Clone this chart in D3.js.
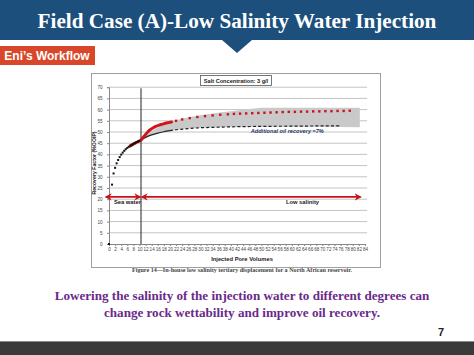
<!DOCTYPE html>
<html><head><meta charset="utf-8">
<script src="https://cdn.jsdelivr.net/npm/d3@7"></script>
<style>html,body{margin:0;padding:0;background:#fff;}svg{display:block;}</style>
</head><body>
<svg id="c" width="474" height="355"></svg>
<script>
// ---- data ----
const xTicks = d3.range(0, 85, 2);
const yTicks = [0,5,10,15,20,25,30,35,40,45,50,55,60,65,70];
const seaX = [0, 1, 1.5, 2, 2.5, 3, 3.5, 4, 4.5, 5, 5.5, 6, 6.5, 7, 7.5, 8, 8.5, 9, 9.5, 10];
const seaY = [0, 26.5, 31.5, 34, 36, 37.5, 38.8, 39.9, 40.8, 41.6, 42.3, 42.9, 43.4, 43.9, 44.3, 44.7, 45.1, 45.5, 45.8, 46.1];
const baseSolidX = [10.5, 12, 14, 16, 18, 20];
const baseSolidY = [46.4, 47.6, 48.7, 49.5, 50.1, 50.6];
const baseDashX = [20, 22, 25, 30, 35, 40, 50, 60, 70, 76];
const baseDashY = [50.6, 51.0, 51.4, 51.9, 52.1, 52.3, 52.5, 52.6, 52.7, 52.7];
const lowSalX = [7, 8, 9, 10, 10.5, 11.5, 12.5, 13.5, 14.5, 15.5, 16.5, 17.5, 18.5, 19.5, 20.5];
const lowSalY = [43.8, 44.6, 45.3, 46.0, 46.4, 48.1, 49.7, 51.0, 51.9, 52.6, 53.1, 53.5, 53.9, 54.2, 54.5];
const predX = [22, 24, 26.5, 29, 31.5, 34, 36.5, 39, 41, 43, 45, 47, 49, 51, 53, 55, 57, 59, 61, 63, 65, 67, 69, 71, 73, 75, 77, 79];
const predY = [55.0, 55.6, 56.2, 56.7, 57.1, 57.4, 57.7, 57.9, 58.1, 58.2, 58.3, 58.4, 58.5, 58.6, 58.7, 58.8, 58.9, 59.0, 59.0, 59.1, 59.1, 59.2, 59.2, 59.3, 59.3, 59.4, 59.4, 59.5];
const bandTopX = [10.5, 12, 14, 16, 18, 20, 22, 25, 28, 31, 34, 37, 40, 43, 46, 50, 82.3];
const bandTopY = [46.4, 48.1, 50.4, 52.0, 53.2, 54.3, 55.2, 56.2, 57.0, 57.7, 58.3, 58.8, 59.3, 59.8, 60.3, 60.8, 60.8];
const bandBotX = [82.3, 76, 60, 50, 40, 30, 25, 20, 18, 16, 14, 12, 10.5];
const bandBotY = [52.1, 52.2, 52.3, 52.3, 52.2, 51.9, 51.4, 50.6, 50.1, 49.5, 48.7, 47.6, 46.4];
const switchPV = 10.5;
const arrowY = 21;
const seaArrow = [-1, 10.2];
const lowArrow = [10.8, 82.5];

// ---- drawing ----
const svg = d3.select("#c");
// header
svg.append("rect").attr("x",0).attr("y",0).attr("width",474).attr("height",40).attr("fill","#1c4f7c");
svg.append("path").attr("d","M222,40 L252,40 L237,53 Z").attr("fill","#1c4f7c");
svg.append("text").attr("x",237).attr("y",28).attr("text-anchor","middle")
  .attr("font-family","Liberation Serif, serif").attr("font-weight","bold").attr("font-size",21.2)
  .attr("fill","#fff").text("Field Case (A)-Low Salinity Water Injection");
svg.append("rect").attr("x",0).attr("y",46).attr("width",95).attr("height",19).attr("fill","#d8472a");
svg.append("text").attr("x",47).attr("y",60).attr("text-anchor","middle")
  .attr("font-family","Liberation Sans, Arial, sans-serif").attr("font-weight","bold").attr("font-size",12)
  .attr("fill","#fff").text("Eni\u2019s Workflow");

// chart frame
svg.append("rect").attr("x",91.5).attr("y",73.5).attr("width",289).attr("height",194)
  .attr("fill","#fff").attr("stroke","#a0a0a0").attr("stroke-width",1);

const x = d3.scaleLinear().domain([0,84]).range([109,365]);
const y = d3.scaleLinear().domain([0,70]).range([244,87.2]);
const g = svg.append("g");

// grid
g.selectAll(".grid").data(yTicks.filter(v=>v>0)).join("line")
  .attr("x1",x(0)).attr("x2",x(84.7)).attr("y1",d=>y(d)).attr("y2",d=>y(d))
  .attr("stroke","#c4c4c4").attr("stroke-width",1);

// band
const bandPts = bandTopX.map((v,i)=>[x(v),y(bandTopY[i])]).concat(bandBotX.map((v,i)=>[x(v),y(bandBotY[i])]));
g.append("path").attr("d", "M" + bandPts.map(p=>p.join(",")).join("L") + "Z").attr("fill","#c9c9c9");

// axes
const sans = "Liberation Sans, Arial, sans-serif";
const xAxis = d3.axisBottom(x).tickValues(xTicks).tickSize(2).tickFormat(d3.format("d"));
const xa = g.append("g").attr("transform",`translate(0,${y(0)})`).call(xAxis);
xa.select(".domain").attr("stroke","#888");
xa.selectAll(".tick line").attr("stroke","#888");
xa.selectAll(".tick text").attr("font-size",4.6).attr("fill","#444").attr("dy","0.5em")
  .attr("font-family",sans);
const yAxis = d3.axisLeft(y).tickValues(yTicks).tickSize(2).tickFormat(d3.format("d"));
const ya = g.append("g").attr("transform",`translate(${x(0)},0)`).call(yAxis);
ya.select(".domain").attr("stroke","#888");
ya.selectAll(".tick line").attr("stroke","#888");
ya.selectAll(".tick text").attr("font-size",4.6).attr("fill","#444").attr("dx","-0.3em")
  .attr("font-family",sans);

// vertical switch line
g.append("line").attr("x1",x(switchPV)).attr("x2",x(switchPV)).attr("y1",y(69.5)).attr("y2",y(0))
  .attr("stroke","#222").attr("stroke-width",1);

// baseline black curve
const line = d3.line().curve(d3.curveMonotoneX);
g.append("path").attr("d", line(baseSolidX.map((v,i)=>[x(v),y(baseSolidY[i])])))
  .attr("fill","none").attr("stroke","#222").attr("stroke-width",1.2);
g.append("path").attr("d", line(baseDashX.map((v,i)=>[x(v),y(baseDashY[i])])))
  .attr("fill","none").attr("stroke","#222").attr("stroke-width",1.2).attr("stroke-dasharray","3,2.2");

// low salinity red thick curve
g.append("path").attr("d", line(lowSalX.map((v,i)=>[x(v),y(lowSalY[i])])))
  .attr("fill","none").attr("stroke","#d0141c").attr("stroke-width",3).attr("stroke-linecap","round");

// sea water black dots
g.selectAll(".sea").data(seaX.map((v,i)=>[v,seaY[i]])).join("rect")
  .attr("x",d=>x(d[0])-1).attr("y",d=>y(d[1])-1).attr("width",2).attr("height",2).attr("fill","#111");

// predicted red dots
g.selectAll(".pred").data(predX.map((v,i)=>[v,predY[i]])).join("rect")
  .attr("x",d=>x(d[0])-1.2).attr("y",d=>y(d[1])-1.2).attr("width",2.4).attr("height",2.4).attr("fill","#c8141c");

// arrows
const defs = svg.append("defs");
defs.append("marker").attr("id","ah").attr("viewBox","0 0 10 10").attr("refX",8).attr("refY",5)
  .attr("markerWidth",4).attr("markerHeight",4).attr("orient","auto-start-reverse")
  .append("path").attr("d","M0,0 L10,5 L0,10 L3,5 Z").attr("fill","#c8141c");
[seaArrow, lowArrow].forEach(a=>{
  g.append("line").attr("x1",x(a[0])).attr("x2",x(a[1])).attr("y1",y(arrowY)).attr("y2",y(arrowY))
    .attr("stroke","#c8141c").attr("stroke-width",1.8)
    .attr("marker-start","url(#ah)").attr("marker-end","url(#ah)");
});
g.append("text").attr("x",x(1.6)).attr("y",y(arrowY)+7).attr("font-family",sans).attr("font-weight","bold")
  .attr("font-size",5.8).attr("fill","#222").text("Sea water");
g.append("text").attr("x",x(63.5)).attr("y",y(arrowY)+7).attr("text-anchor","middle").attr("font-family",sans).attr("font-weight","bold")
  .attr("font-size",5.8).attr("fill","#222").text("Low salinity");
g.append("text").attr("x",x(46.5)).attr("y",y(49.4)).attr("font-family",sans).attr("font-weight","bold").attr("font-style","italic")
  .attr("font-size",5.6).attr("fill","#2a3a6a").text("Additional oil recovery \u22487%");

// salt box
svg.append("rect").attr("x",200.5).attr("y",75.5).attr("width",71).attr("height",10)
  .attr("fill","#fff").attr("stroke","#555").attr("stroke-width",0.8);
svg.append("text").attr("x",236).attr("y",82.8).attr("text-anchor","middle").attr("font-family",sans).attr("font-weight","bold")
  .attr("font-size",5.6).attr("fill","#222").text("Salt Concentration: 3 g/l");

// axis titles
svg.append("text").attr("x",242).attr("y",261).attr("text-anchor","middle").attr("font-family",sans).attr("font-weight","bold")
  .attr("font-size",5.8).attr("fill","#222").text("Injected Pore Volumes");
svg.append("text").attr("transform","translate(96,163) rotate(-90)").attr("text-anchor","middle").attr("font-family",sans).attr("font-weight","bold")
  .attr("font-size",5.2).attr("fill","#222").text("Recovery Factor (%OOIP)");

// caption
svg.append("text").attr("x",242).attr("y",272).attr("text-anchor","middle").attr("font-family","Liberation Serif, serif").attr("font-weight","bold")
  .attr("font-size",6.1).attr("fill","#444").text("Figure 14\u2014In-house low salinity tertiary displacement for a North African reservoir.");

// bottom text
const serif = "Liberation Serif, serif";
svg.append("text").attr("x",242).attr("y",300).attr("text-anchor","middle").attr("font-family",serif).attr("font-weight","bold")
  .attr("font-size",13.1).attr("fill","#6a2a8a").text("Lowering the salinity of the injection water to different degrees can");
svg.append("text").attr("x",242).attr("y",317).attr("text-anchor","middle").attr("font-family",serif).attr("font-weight","bold")
  .attr("font-size",13.1).attr("fill","#6a2a8a").text("change rock wettability and improve oil recovery.");
svg.append("text").attr("x",441).attr("y",336).attr("text-anchor","middle").attr("font-family",sans).attr("font-weight","bold")
  .attr("font-size",11).attr("fill","#222").text("7");

svg.append("rect").attr("x",0).attr("y",341).attr("width",474).attr("height",14).attr("fill","#3a3a3a");
svg.append("rect").attr("x",0).attr("y",341).attr("width",474).attr("height",1).attr("fill","#8a8a8a");
</script>
</body></html>
